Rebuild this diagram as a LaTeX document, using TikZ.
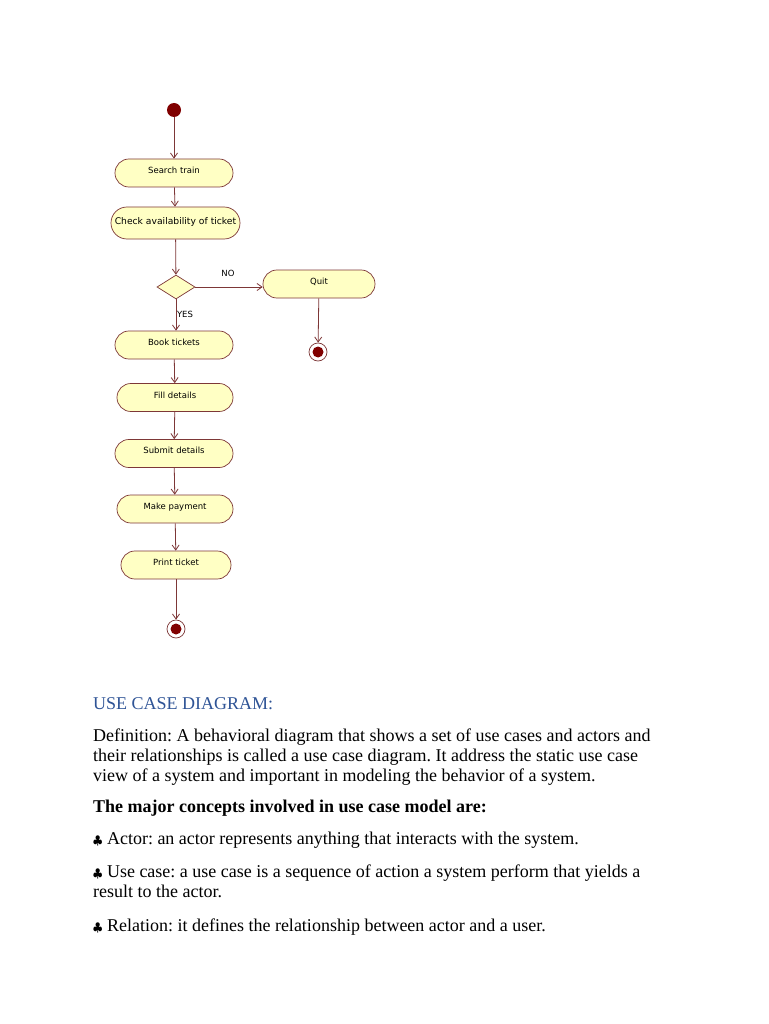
\documentclass[tikz,border=0pt]{standalone}
\usepackage{fontspec}
\setmainfont{Liberation Serif}
\newfontfamily\diagfont{DejaVu Sans}
\usetikzlibrary{arrows.meta,shapes.geometric}
\definecolor{actfill}{RGB}{255,255,196}
\definecolor{edgecol}{RGB}{125,55,55}
\definecolor{dotcol}{RGB}{128,0,0}
\definecolor{headcol}{RGB}{47,84,150}
\frenchspacing
\begin{document}
\begin{tikzpicture}[x=1pt,y=-1pt,
  actbox/.style={draw=edgecol, fill=actfill, rounded corners=13.9pt, minimum height=28pt, inner sep=0pt, line width=0.7pt, font=\diagfont\fontsize{8.5}{9}\selectfont},
  flow/.style={draw=edgecol, line width=0.8pt, -{Straight Barb[length=5pt,width=7pt]}},
  lbl/.style={font=\diagfont\fontsize{8.5}{9}\selectfont, inner sep=0pt},
  txt/.style={anchor=base west, inner sep=0pt, font=\fontsize{18}{20}\selectfont}]
\useasboundingbox (0,0) rectangle (768,1024);
\fill[white] (0,0) rectangle (768,1024);

% activity diagram
\node[circle, fill=dotcol, minimum size=14pt, inner sep=0pt] (start) at (174,110) {};
\node[actbox, minimum width=118pt] (search) at (174,173) {\raisebox{5pt}{Search train}};
\node[actbox, minimum width=129pt, minimum height=32pt, rounded corners=15.9pt, font=\diagfont\fontsize{9.2}{10}\selectfont] (check) at (175.5,223) {\raisebox{4pt}{Check availability of ticket}};
\node[diamond, draw=edgecol, fill=actfill, line width=0.7pt, minimum width=38pt, minimum height=24pt, inner sep=0pt, aspect=1.6] (dec) at (176,287) {};
\node[actbox, minimum width=112pt] (quit) at (319,284) {\raisebox{6pt}{Quit}};
\node[circle, draw=edgecol, fill=white, line width=0.7pt, minimum size=18pt, inner sep=0pt] (end1) at (318,352) {};
\fill[dotcol] (end1.center) circle (5.5pt);
\node[actbox, minimum width=118pt] (book) at (174,345) {\raisebox{5pt}{Book tickets}};
\node[actbox, minimum width=116pt] (fill) at (175,397.5) {\raisebox{5pt}{Fill details}};
\node[actbox, minimum width=118pt] (submit) at (174,453.5) {\raisebox{6pt}{Submit details}};
\node[actbox, minimum width=116pt] (pay) at (175,509) {\raisebox{5pt}{Make payment}};
\node[actbox, minimum width=110pt] (print) at (176,565) {\raisebox{5pt}{Print ticket}};
\node[circle, draw=edgecol, fill=white, line width=0.7pt, minimum size=18pt, inner sep=0pt] (end2) at (176,629) {};
\fill[dotcol] (end2.center) circle (5.5pt);
\node[lbl] (no) at (228,273) {NO};
\node[lbl] (yes) at (185,314) {YES};

\draw[flow] (start) -- (search);
\draw[flow] (search) -- (check);
\draw[flow] (check) -- (dec);
\draw[flow] (dec.east) -- (dec.east -| quit.west);
\draw[flow] (quit) -- (end1);
\draw[flow] (dec.south) -- (dec.south |- book.north);
\draw[flow] (book) -- (fill);
\draw[flow] (fill) -- (submit);
\draw[flow] (submit) -- (pay);
\draw[flow] (pay) -- (print);
\draw[flow] (print) -- (end2);

% text
\node[txt, text=headcol] (heading) at (93,709) {USE CASE DIAGRAM:};
\node[txt] (def1) at (93,741) {Definition: A behavioral diagram that shows a set of use cases and actors and};
\node[txt] (def2) at (93,761) {their relationships is called a use case diagram. It address the static use case};
\node[txt] (def3) at (93,781) {view of a system and important in modeling the behavior of a system.};
\node[txt, font=\fontsize{18}{20}\selectfont\bfseries] (major) at (93,812) {The major concepts involved in use case model are:};
\node[txt] (actor) at (93,844) {{\fontsize{13}{13}\selectfont$\clubsuit$} Actor: an actor represents anything that interacts with the system.};
\node[txt] (uc1) at (93,877) {{\fontsize{13}{13}\selectfont$\clubsuit$} Use case: a use case is a sequence of action a system perform that yields a};
\node[txt] (uc2) at (93,897) {result to the actor.};
\node[txt] (rel) at (93,931) {{\fontsize{13}{13}\selectfont$\clubsuit$} Relation: it defines the relationship between actor and a user.};
\end{tikzpicture}
\end{document}
